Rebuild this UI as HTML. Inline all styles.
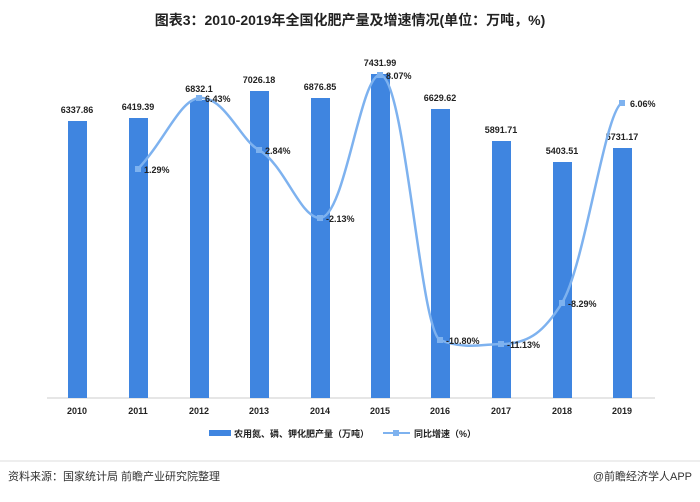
<!DOCTYPE html>
<html><head><meta charset="utf-8"><style>
body{margin:0;background:#fff;width:700px;height:497px;overflow:hidden;font-family:"Liberation Sans","Noto Sans CJK SC",sans-serif}
</style></head><body>
<svg width="700" height="497" xmlns="http://www.w3.org/2000/svg" font-family="Liberation Sans, Noto Sans CJK SC, sans-serif">
<text x="350" y="25" text-anchor="middle" font-size="14" font-weight="bold" fill="#222">图表3：2010-2019年全国化肥产量及增速情况(单位：万吨，%)</text>
<line x1="47" y1="398" x2="655" y2="398" stroke="#ccc"/>
<g fill="#3f85e0">
<rect x="68" y="121" width="19" height="277"/>
<rect x="129" y="118" width="19" height="280"/>
<rect x="190" y="100" width="19" height="298"/>
<rect x="250" y="91" width="19" height="307"/>
<rect x="311" y="98" width="19" height="300"/>
<rect x="371" y="74" width="19" height="324"/>
<rect x="431" y="109" width="19" height="289"/>
<rect x="492" y="141" width="19" height="257"/>
<rect x="553" y="162" width="19" height="236"/>
<rect x="613" y="148" width="19" height="250"/>
</g>
<g font-size="9" font-weight="bold" fill="#222" text-anchor="middle">
<text x="77" y="113">6337.86</text><text x="138" y="110">6419.39</text><text x="199" y="92">6832.1</text>
<text x="259" y="83">7026.18</text><text x="320" y="90">6876.85</text><text x="380" y="66">7431.99</text>
<text x="440" y="101">6629.62</text><text x="501" y="133">5891.71</text><text x="562" y="154">5403.51</text><text x="622" y="140">5731.17</text>
</g>
<path d="M138,169 C165,140 180,100 199,98 C225,96 240,140 259,150 C285,165 300,218 320,218 C345,218 360,75 380,75 C405,75 420,330 440,340 C465,350 485,344 501,344 C530,344 545,330 562,303 C585,265 605,110 622,103" fill="none" stroke="#7eb2ef" stroke-width="2.5"/>
<g fill="#7eb2ef">
<rect x="135" y="166" width="6" height="6"/><rect x="196" y="95" width="6" height="6"/><rect x="256" y="147" width="6" height="6"/>
<rect x="317" y="215" width="6" height="6"/><rect x="377" y="72" width="6" height="6"/><rect x="437" y="337" width="6" height="6"/>
<rect x="498" y="341" width="6" height="6"/><rect x="559" y="300" width="6" height="6"/><rect x="619" y="100" width="6" height="6"/>
</g>
<g font-size="9" font-weight="bold" fill="#222">
<text x="144" y="173">1.29%</text><text x="205" y="102">6.43%</text><text x="265" y="154">2.84%</text>
<text x="326" y="222">-2.13%</text><text x="386" y="79">8.07%</text><text x="446" y="344">-10.80%</text>
<text x="507" y="348">-11.13%</text><text x="568" y="307">-8.29%</text><text x="630" y="107">6.06%</text>
</g>
<g font-size="9" font-weight="bold" fill="#222" text-anchor="middle">
<text x="77" y="414">2010</text><text x="138" y="414">2011</text><text x="199" y="414">2012</text><text x="259" y="414">2013</text><text x="320" y="414">2014</text>
<text x="380" y="414">2015</text><text x="440" y="414">2016</text><text x="501" y="414">2017</text><text x="562" y="414">2018</text><text x="622" y="414">2019</text>
</g>
<rect x="209" y="430" width="22" height="6" fill="#3f85e0"/>
<text x="234" y="437" font-size="9" font-weight="bold" fill="#222">农用氮、磷、钾化肥产量（万吨）</text>
<line x1="383" y1="433" x2="410" y2="433" stroke="#7eb2ef" stroke-width="2"/>
<rect x="393" y="430" width="6" height="6" fill="#7eb2ef"/>
<text x="414" y="437" font-size="9" font-weight="bold" fill="#222">同比增速（%）</text>
<line x1="0" y1="461" x2="700" y2="461" stroke="#ddd"/>
<text x="8" y="480" font-size="11" fill="#333">资料来源：国家统计局 前瞻产业研究院整理</text>
<text x="692" y="480" font-size="11" fill="#333" text-anchor="end">@前瞻经济学人APP</text>
</svg>
</body></html>
